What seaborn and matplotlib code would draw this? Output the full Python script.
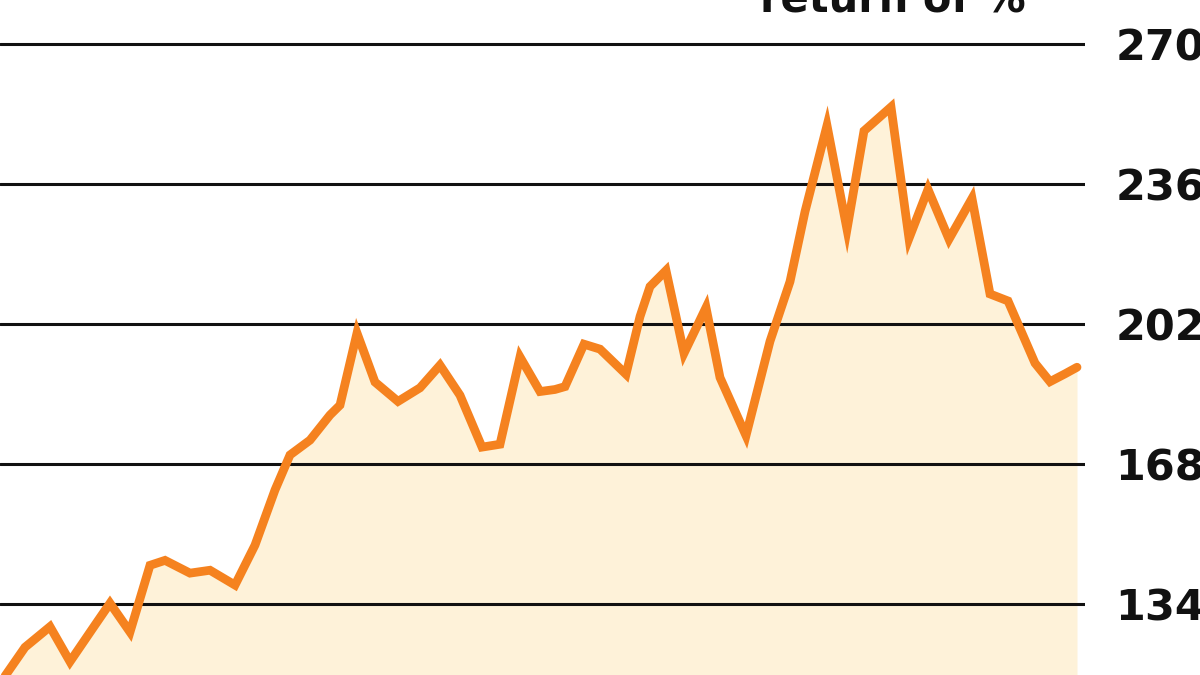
import numpy as np
import pandas as pd
import seaborn as sns
import matplotlib.pyplot as plt

# position along the time axis and index value
t = [5, 25, 50, 70, 95, 110, 130, 150, 165, 190, 210, 235, 255, 275, 290, 310, 330, 340,
     357, 375, 398, 420, 440, 460, 482, 500, 520, 540, 555, 565, 584, 600, 626, 640, 650,
     666, 684, 706, 720, 746, 770, 790, 805, 827, 847, 864, 891, 909, 928, 949, 972, 990,
     1008, 1020, 1035, 1050, 1065, 1077]
value = [116.5, 123.5, 128.5, 120.0, 128.9, 134.2, 127.2, 143.4, 144.6, 141.5, 142.2, 138.6,
         148.3, 161.7, 170.2, 173.8, 179.9, 182.3,
         199.8, 187.9, 183.2, 186.5, 192.0, 184.7, 172.1, 172.8, 194.0, 185.6, 186.1, 186.8,
         197.1, 195.9, 189.8, 203.8, 211.1,
         215.0, 194.9, 206.0, 189.0, 174.9, 197.8, 212.3, 229.3, 250.2, 225.0, 248.9, 254.7,
         222.8, 234.7, 222.6, 232.5, 209.3, 207.6, 200.9, 192.5, 188.0, 189.9, 191.5]
ticks = [134, 168, 202, 236, 270]

df = pd.DataFrame({'t': t, 'value': value})

sns.set_theme(style='white')
plt.rcParams['font.family'] = ['DejaVu Sans']

fig = plt.figure(figsize=(12, 6.75), dpi=100)
ax = fig.add_axes([0, 0, 1085 / 1200, 1])

ax.fill_between(df['t'], df['value'], 100, color='#fef2d9', zorder=1, linewidth=0)
for v in ticks:
    ax.axhline(v, color='#111111', linewidth=2.2, zorder=2)
sns.lineplot(data=df, x='t', y='value', ax=ax, color='#f5821f', linewidth=6.3,
             zorder=3, solid_joinstyle='miter')

ax.set_xlim(0, 1085)
ax.set_ylim(116.76, 280.69)
ax.set_xlabel('')
ax.set_ylabel('')
ax.set_xticks([])
ax.yaxis.tick_right()
ax.set_yticks(ticks)
ax.set_yticklabels([str(v) for v in ticks], fontsize=31, fontweight='bold', color='#111111')
ax.tick_params(axis='y', length=0, pad=22)
for s in ax.spines.values():
    s.set_visible(False)

fig.text(760 / 1200, 1 - 12 / 675, 'return of %', fontsize=30, fontweight='bold',
         color='#111111', ha='left', va='baseline')

fig.savefig('out.png', dpi=100)
